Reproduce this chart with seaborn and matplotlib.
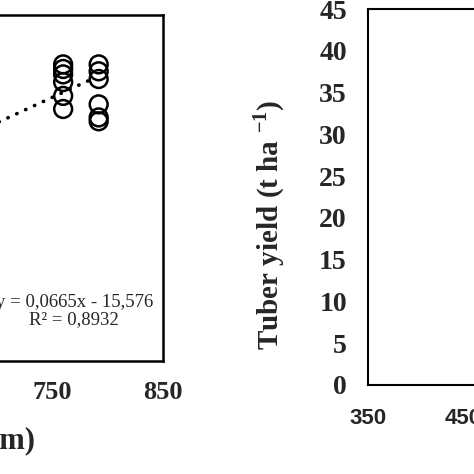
import matplotlib
matplotlib.use('Agg')
import matplotlib.pyplot as plt
import seaborn as sns
import pandas as pd

# visible points of the left panel (water applied vs tuber yield)
water_a = [760, 760, 760, 760, 760, 760]
yield_a = [38.6, 38.0, 37.3, 36.3, 34.5, 32.8]
water_b = [792, 792, 792, 792, 792, 792]
yield_b = [38.6, 37.7, 36.7, 33.4, 31.7, 31.2]

slope = 0.0665
intercept = -15.576
r2 = 0.8932
trend_x = [600, 785]

x_ticks = [350, 450, 550, 650, 750, 850]
y_ticks = [0, 5, 10, 15, 20, 25, 30, 35, 40, 45]

sns.set_style('white')
plt.rcParams['font.family'] = ['Liberation Serif', 'DejaVu Serif']
plt.rcParams['mathtext.fontset'] = 'custom'
plt.rcParams['mathtext.bf'] = 'Liberation Serif:bold'
plt.rcParams['mathtext.rm'] = 'Liberation Serif'

df = pd.DataFrame({'water': water_a + water_b, 'yield': yield_a + yield_b})
trend = pd.DataFrame({'x': trend_x, 'y': [slope * v + intercept for v in trend_x]})

fig = plt.figure(figsize=(4.74, 4.74), dpi=100)

# left panel, mostly cut off by the crop
ax1 = fig.add_axes([-0.827, 0.238, 1.171, 0.730])
ax1.plot(trend['x'], trend['y'], color='black', linestyle=(0, (0.1, 2.6)),
         linewidth=2.6, dash_capstyle='round')
sns.scatterplot(data=df, x='water', y='yield', ax=ax1, s=165, marker='o',
                facecolor='none', edgecolor='black', linewidth=1.8, zorder=3)
ax1.set_xlim(350, 850)
ax1.set_ylim(0, 45)
ax1.set_xticks(x_ticks)
ax1.set_yticks(y_ticks)
ax1.tick_params(length=0, pad=14)
for lab in ax1.get_xticklabels():
    lab.set_fontsize(19)
    lab.set_fontweight('bold')
ax1.set_xlabel('Irrigation water (mm)', fontsize=22, fontweight='bold', ha='right')
ax1.xaxis.set_label_coords(0.77, -0.19)
eq = f'y = {slope:.4f}x - {abs(intercept):.3f}\nR² = {r2:.4f}'.replace('.', ',')
ax1.text(0.84, 0.145, eq, transform=ax1.transAxes, ha='center', va='center',
         multialignment='center', fontsize=13.5, linespacing=1.05)
for sp in ax1.spines.values():
    sp.set_linewidth(1.8)
    sp.set_color('black')

# right panel, only its left edge is visible
ax2 = fig.add_axes([0.776, 0.188, 1.002, 0.793])
ax2.set_xlim(350, 850)
ax2.set_ylim(0, 45)
ax2.set_xticks(x_ticks)
ax2.set_yticks(y_ticks)
ax2.tick_params(length=0)
ax2.tick_params(axis='y', pad=15)
ax2.tick_params(axis='x', pad=17)
for lab in ax2.get_yticklabels():
    lab.set_fontsize(20)
    lab.set_fontweight('bold')
for lab in ax2.get_xticklabels():
    lab.set_fontsize(16)
    lab.set_fontweight('bold')
    lab.set_family(['Liberation Sans', 'DejaVu Sans'])
ax2.set_ylabel(r'Tuber yield (t ha $^{\mathbf{-1}}$)', fontsize=21, fontweight='bold')
ax2.yaxis.set_label_coords(-0.17, 0.426)
for sp in ax2.spines.values():
    sp.set_linewidth(1.5)
    sp.set_color('black')

fig.savefig('out.png', dpi=100)
